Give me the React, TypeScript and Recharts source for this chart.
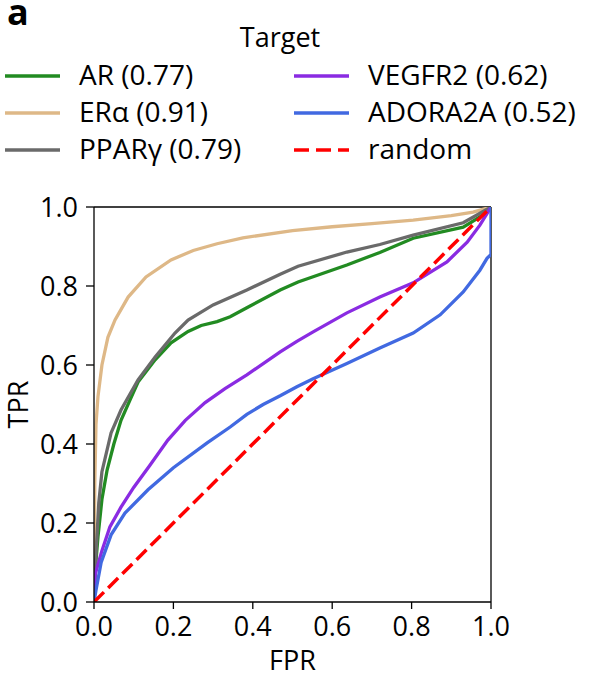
import React from 'react'
import { LineChart, Line, XAxis, YAxis, ReferenceLine } from 'recharts'

// ROC curves, FPR / TPR pairs
const AR_FPR = [0, 0.003, 0.01, 0.02, 0.033, 0.05, 0.068, 0.09, 0.111, 0.154, 0.194, 0.237, 0.27, 0.31, 0.343, 0.385, 0.469, 0.514, 0.637, 0.72, 0.804, 0.93, 0.98, 1]
const AR_TPR = [0, 0.08, 0.165, 0.26, 0.334, 0.4, 0.46, 0.51, 0.557, 0.613, 0.656, 0.685, 0.7, 0.71, 0.722, 0.745, 0.79, 0.81, 0.853, 0.885, 0.921, 0.949, 0.98, 1]

const ERA_FPR = [0, 0.002, 0.005, 0.01, 0.02, 0.035, 0.053, 0.086, 0.131, 0.194, 0.25, 0.31, 0.375, 0.5, 0.6, 0.7, 0.804, 0.9, 0.955, 1]
const ERA_TPR = [0, 0.3, 0.45, 0.52, 0.6, 0.67, 0.714, 0.772, 0.823, 0.866, 0.89, 0.907, 0.922, 0.94, 0.95, 0.958, 0.967, 0.978, 0.987, 1]

const PPARG_FPR = [0, 0.005, 0.012, 0.02, 0.043, 0.068, 0.111, 0.154, 0.204, 0.237, 0.3, 0.385, 0.469, 0.514, 0.637, 0.72, 0.804, 0.93, 1]
const PPARG_TPR = [0, 0.12, 0.25, 0.33, 0.428, 0.486, 0.562, 0.62, 0.681, 0.714, 0.752, 0.79, 0.83, 0.85, 0.886, 0.905, 0.929, 0.96, 1]

const VEGFR2_FPR = [0, 0.003, 0.02, 0.04, 0.068, 0.1, 0.14, 0.186, 0.23, 0.28, 0.33, 0.385, 0.469, 0.511, 0.552, 0.637, 0.72, 0.804, 0.889, 0.94, 0.972, 1]
const VEGFR2_TPR = [0, 0.07, 0.13, 0.19, 0.24, 0.29, 0.345, 0.41, 0.46, 0.505, 0.54, 0.575, 0.633, 0.66, 0.684, 0.732, 0.772, 0.808, 0.861, 0.911, 0.954, 1]

const ADORA_FPR = [0, 0.005, 0.018, 0.043, 0.078, 0.136, 0.2, 0.285, 0.343, 0.385, 0.426, 0.469, 0.511, 0.552, 0.637, 0.72, 0.804, 0.872, 0.93, 0.972, 0.99, 1, 1]
const ADORA_TPR = [0, 0.03, 0.1, 0.17, 0.225, 0.284, 0.34, 0.403, 0.443, 0.475, 0.5, 0.522, 0.545, 0.565, 0.604, 0.643, 0.681, 0.727, 0.785, 0.84, 0.87, 0.88, 1]

const RANDOM_FPR = [0, 1]
const RANDOM_TPR = [0, 1]

const TICKS = [0, 0.2, 0.4, 0.6, 0.8, 1]

const zip = (xs: number[], ys: number[]) => xs.map((x, i) => ({ x, y: ys[i] }))

const series = [
  { name: 'AR (0.77)', data: zip(AR_FPR, AR_TPR), color: '#228B22' },
  { name: 'ERα (0.91)', data: zip(ERA_FPR, ERA_TPR), color: '#deb887' },
  { name: 'PPARγ (0.79)', data: zip(PPARG_FPR, PPARG_TPR), color: '#6a6a6a' },
  { name: 'VEGFR2 (0.62)', data: zip(VEGFR2_FPR, VEGFR2_TPR), color: '#8a2be2' },
  { name: 'ADORA2A (0.52)', data: zip(ADORA_FPR, ADORA_TPR), color: '#4169e1' },
]
const randomSeries = { name: 'random', data: zip(RANDOM_FPR, RANDOM_TPR), color: '#ff0000' }

const FONT = '"Open Sans", "DejaVu Sans", sans-serif'

function LegendBlock() {
  // two columns, three rows, like matplotlib ncol=2
  const items = [...series, randomSeries]
  return (
    <svg width={589} height={200} style={{ position: 'absolute', left: 0, top: 0 }} fontFamily={FONT}>
      <text x={7} y={25} fontSize={36} fontWeight="bold" fill="#000">a</text>
      <text x={280} y={47} fontSize={27} textAnchor="middle" fill="#000">Target</text>
      {items.map((s, i) => {
        const col = i < 3 ? 0 : 1
        const row = i % 3
        const x0 = col === 0 ? 5 : 294
        const y = 76 + row * 37
        return (
          <g key={s.name}>
            <line
              x1={x0}
              x2={x0 + 55}
              y1={y}
              y2={y}
              stroke={s.color}
              strokeWidth={3.5}
              strokeDasharray={s.name === 'random' ? '15 7' : undefined}
            />
            <text x={x0 + 74} y={y + 9} fontSize={28} fill="#000">{s.name}</text>
          </g>
        )
      })}
    </svg>
  )
}

export default function App() {
  const tickStyle = { fontSize: 27, fill: '#000', fontFamily: FONT }
  return (
    <div style={{ position: 'absolute', left: 0, top: 0, width: 589, height: 681, background: '#fff' }}>
      <LineChart width={589} height={681} margin={{ top: 207, right: 98, bottom: 0, left: 34 }}>
        <XAxis
          type="number"
          dataKey="x"
          domain={[0, 1]}
          ticks={TICKS}
          tickFormatter={(v: number) => v.toFixed(1)}
          height={79}
          tickSize={7}
          tickMargin={8}
          tick={tickStyle}
          stroke="#000"
          strokeWidth={1.3}
          allowDataOverflow
          label={{ value: 'FPR', position: 'insideBottom', offset: 11, style: { fontSize: 27, fill: '#000', fontFamily: FONT } }}
        />
        <YAxis
          type="number"
          dataKey="y"
          domain={[0, 1]}
          ticks={TICKS}
          tickFormatter={(v: number) => v.toFixed(1)}
          width={60}
          tickSize={8}
          tickMargin={8}
          tick={tickStyle}
          stroke="#000"
          strokeWidth={1.3}
          allowDataOverflow
          label={{
            content: (props: any) => {
              const vb = props.viewBox || { x: 34, y: 207, width: 60, height: 395 }
              const cx = vb.x - 17
              const cy = vb.y + vb.height / 2
              return (
                <text
                  x={cx}
                  y={cy}
                  transform={`rotate(-90 ${cx} ${cy})`}
                  textAnchor="middle"
                  dominantBaseline="central"
                  fontSize={27}
                  fontFamily={FONT}
                  fill="#000"
                >
                  TPR
                </text>
              )
            },
          }}
        />
        <ReferenceLine y={1} stroke="#000" strokeWidth={1.3} />
        <ReferenceLine x={1} stroke="#000" strokeWidth={1.3} />
        {series.map((s) => (
          <Line
            key={s.name}
            data={s.data}
            dataKey="y"
            name={s.name}
            type="linear"
            stroke={s.color}
            strokeWidth={3.3}
            dot={false}
            activeDot={false}
            isAnimationActive={false}
          />
        ))}
        <Line
          data={randomSeries.data}
          dataKey="y"
          name={randomSeries.name}
          type="linear"
          stroke={randomSeries.color}
          strokeWidth={3.5}
          strokeDasharray="14 6"
          dot={false}
          activeDot={false}
          isAnimationActive={false}
        />
      </LineChart>
      <LegendBlock />
    </div>
  )
}
